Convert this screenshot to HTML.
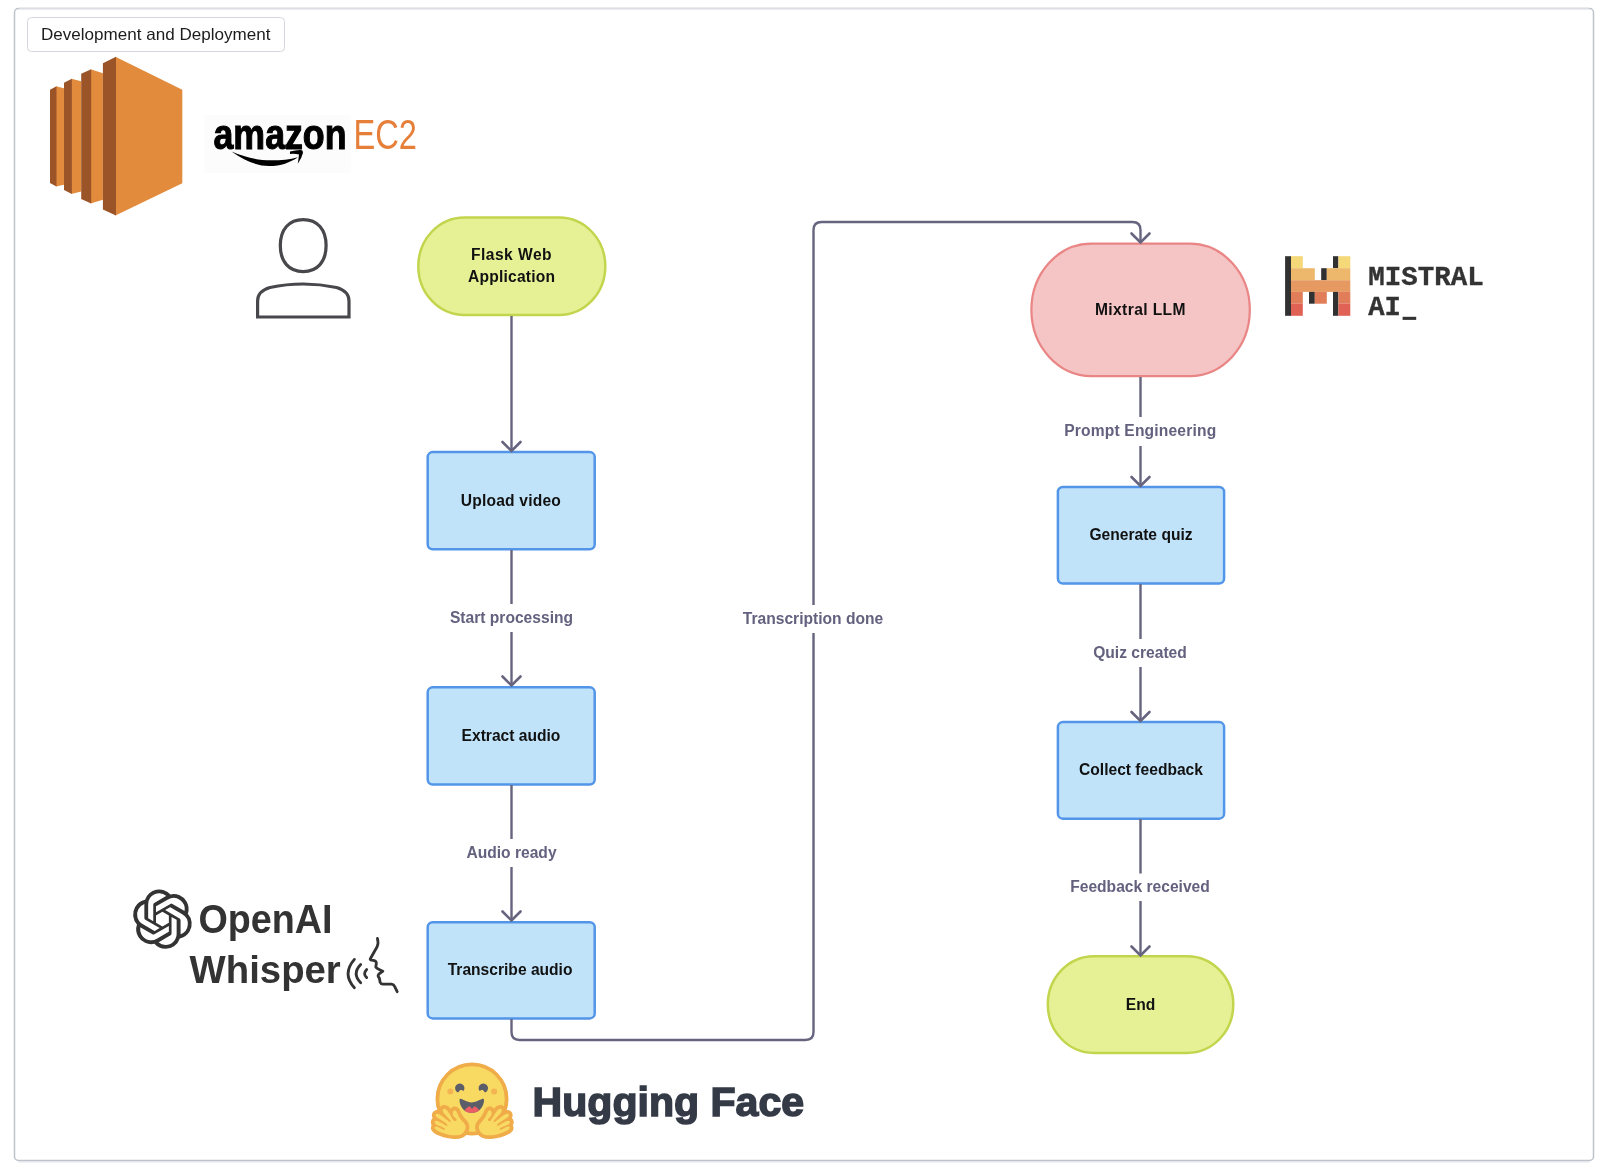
<!DOCTYPE html>
<html>
<head>
<meta charset="utf-8">
<style>
html,body{margin:0;padding:0;background:#ffffff;width:1608px;height:1168px;overflow:hidden;}
svg{position:absolute;left:0;top:0;display:block;will-change:transform;}
text{font-family:"Liberation Sans",sans-serif;}
.nt{font-weight:bold;font-size:15.6px;fill:#111111;text-anchor:middle;}
.lb{font-weight:bold;font-size:15.6px;fill:#64617f;text-anchor:middle;}
.ln{fill:none;stroke:#66647f;stroke-width:2.4;}
.ah{stroke-linecap:round;stroke-width:2.6;}
.box{fill:#c1e3fa;stroke:#5395e8;stroke-width:2.5;}
</style>
</head>
<body>
<svg width="1608" height="1168" viewBox="0 0 1608 1168">
  <!-- outer frame -->
  <line x1="18" y1="1162" x2="1590" y2="1162" stroke="#f1f2f4" stroke-width="2"/>
  <rect x="14.5" y="8.5" width="1579" height="1152" rx="4" fill="#ffffff" stroke="#bec2cb" stroke-width="1.5"/>
  <line x1="19" y1="8.5" x2="1589" y2="8.5" stroke="#dcdee3" stroke-width="1.5"/>
  <!-- label -->
  <rect x="27.5" y="17.5" width="257" height="34" rx="4" fill="#ffffff" stroke="#d3d6dc" stroke-width="1"/>
  <text x="41" y="40" font-size="16.5" fill="#1c1c1c" textLength="229.5" lengthAdjust="spacingAndGlyphs">Development and Deployment</text>

  <!-- EC2 icon -->
  <g id="ec2">
    <polygon points="55.9,86.3 64,88.2 64,184.8 55.9,186.6" fill="#e38b3c"/>
    <polygon points="50,89.7 56.5,86.3 56.5,186.6 50,183" fill="#9a5427"/>
    <polygon points="71.3,78.8 81.2,81.2 81.2,191.6 71.3,194.1" fill="#e38b3c"/>
    <polygon points="64,82.7 71.9,78.8 71.9,194.1 64,190.1" fill="#9a5427"/>
    <polygon points="90.6,69.2 102.9,73.2 102.9,199.8 90.6,203.6" fill="#e38b3c"/>
    <polygon points="81.2,73.7 91.2,69.2 91.2,203.6 81.2,199.1" fill="#9a5427"/>
    <polygon points="115.4,56.7 182.3,89.7 182.3,183.3 115.4,215.5" fill="#e38b3c"/>
    <polygon points="102.9,63.2 116,56.7 116,215.5 102.9,209.6" fill="#9a5427"/>
  </g>

  <!-- amazon EC2 -->
  <rect x="204" y="115" width="147" height="58" fill="#fcfcfc"/>
  <text x="213.5" y="148.7" font-size="42.5" font-weight="bold" fill="#000" stroke="#000" stroke-width="1.1" textLength="133" lengthAdjust="spacingAndGlyphs">amazon</text>
  <path d="M231.5,151.6 C245,161 257,166 269,166 C281,166 290,162.5 298,157.2 C290,159.8 281,160.3 271,160.3 C258,160.3 245,157.5 231.5,151.6 Z" fill="#000"/>
  <path d="M290,151.5 Q296,149.8 301,150 Q303.2,150.3 303,152.8 Q301.8,158 297.8,163.8 Q298.6,158.5 299,154.6 Q295,153.5 290,154 Z" fill="#000"/>
  <text x="353.5" y="148.7" font-size="43.4" fill="#e67f3a" textLength="63.5" lengthAdjust="spacingAndGlyphs">EC2</text>

  <!-- person -->
  <path d="M303.2,219.6 C317.40,219.6 326.09999999999997,229.48 326.09999999999997,245.6 C326.09999999999997,261.72 317.40,271.6 303.2,271.6 C289.00,271.6 280.3,261.72 280.3,245.6 C280.3,229.48 289.00,219.6 303.2,219.6 Z" fill="none" stroke="#48484c" stroke-width="3.2"/>
  <path d="M257.6,317 L257.6,301 Q257.6,291 270,287.5 Q286,284 303.3,284 Q320,284 336.5,287.5 Q349,291 349,301 L349,317 Z" fill="none" stroke="#48484c" stroke-width="3.2" stroke-linejoin="miter"/>

  <!-- ============ nodes ============ -->
  <rect x="418.3" y="217.5" width="187" height="97.4" rx="46" ry="48.7" fill="#e6f196" stroke="#c2d54c" stroke-width="2.5"/>
  <text class="nt" x="511.3" y="260" textLength="80.5">Flask Web</text>
  <text class="nt" x="511.5" y="282" textLength="87">Application</text>

  <rect class="box" x="427.7" y="452.1" width="167" height="97.2" rx="5"/>
  <text class="nt" x="510.8" y="505.5" textLength="100">Upload video</text>
  <rect class="box" x="427.7" y="687.3" width="167" height="97.2" rx="5"/>
  <text class="nt" x="511" y="740.6">Extract audio</text>
  <rect class="box" x="427.7" y="922.2" width="167" height="96.2" rx="5"/>
  <text class="nt" x="510.1" y="975.2">Transcribe audio</text>

  <rect x="1031.4" y="243.7" width="218.4" height="132.4" rx="60" ry="66" fill="#f5c4c4" stroke="#ea8585" stroke-width="2.2"/>
  <text class="nt" x="1140.2" y="315" textLength="90.5">Mixtral LLM</text>

  <rect class="box" x="1057.9" y="486.9" width="166.2" height="96.6" rx="5"/>
  <text class="nt" x="1141" y="539.5">Generate quiz</text>
  <rect class="box" x="1057.9" y="722.1" width="166.2" height="96.6" rx="5"/>
  <text class="nt" x="1141" y="774.5">Collect feedback</text>

  <rect x="1047.8" y="956.3" width="185.5" height="96.6" rx="46" ry="48.3" fill="#e6f196" stroke="#c2d54c" stroke-width="2.5"/>
  <text class="nt" x="1140.5" y="1010.4">End</text>

  <!-- ============ edges ============ -->
  <!-- flask -> upload -->
  <path class="ln" d="M511.5,316 V451"/>
  <path class="ln ah" d="M502.5,442 L511.5,451 L520.5,442"/>
  <!-- upload -> extract -->
  <path class="ln" d="M511.5,550 V604 M511.5,632 V685"/>
  <path class="ln ah" d="M502.5,676.5 L511.5,685.5 L520.5,676.5"/>
  <text class="lb" x="511.5" y="623">Start processing</text>
  <!-- extract -> transcribe -->
  <path class="ln" d="M511.5,785 V839 M511.5,867 V920"/>
  <path class="ln ah" d="M502.5,911.5 L511.5,920.5 L520.5,911.5"/>
  <text class="lb" x="511.5" y="858">Audio ready</text>
  <!-- transcribe -> mixtral -->
  <path class="ln" d="M511.5,1019 V1032 Q511.5,1040 519.5,1040 H805.5 Q813.5,1040 813.5,1032 V633 M813.5,605 V230 Q813.5,222 821.5,222 H1132.5 Q1140.5,222 1140.5,230 V242"/>
  <path class="ln ah" d="M1131.5,233.5 L1140.5,242.5 L1149.5,233.5"/>
  <text class="lb" x="813" y="624">Transcription done</text>
  <!-- mixtral -> generate -->
  <path class="ln" d="M1140.5,377 V417 M1140.5,446 V486"/>
  <path class="ln ah" d="M1131.5,477 L1140.5,486 L1149.5,477"/>
  <text class="lb" x="1140.2" y="436" textLength="152">Prompt Engineering</text>
  <!-- generate -> collect -->
  <path class="ln" d="M1140.5,584 V639 M1140.5,667 V721"/>
  <path class="ln ah" d="M1131.5,712 L1140.5,721 L1149.5,712"/>
  <text class="lb" x="1140" y="658">Quiz created</text>
  <!-- collect -> end -->
  <path class="ln" d="M1140.5,819 V873.5 M1140.5,901 V955.5"/>
  <path class="ln ah" d="M1131.5,946.5 L1140.5,955.5 L1149.5,946.5"/>
  <text class="lb" x="1140" y="892.4">Feedback received</text>

  <!-- Mistral logo -->
  <g id="mistral">
    <rect x="1285.1" y="256.2" width="5.9" height="59.6" fill="#313131"/>
    <rect x="1291" y="256.2" width="11.8" height="12" fill="#f5d878"/>
    <rect x="1333" y="256.2" width="5.4" height="12" fill="#313131"/>
    <rect x="1338.4" y="256.2" width="11.9" height="12" fill="#f5d878"/>
    <rect x="1291" y="268.2" width="23.8" height="12" fill="#edb86b"/>
    <rect x="1321.2" y="268.2" width="5.6" height="12" fill="#313131"/>
    <rect x="1326.8" y="268.2" width="23.5" height="12" fill="#edb86b"/>
    <rect x="1291" y="280.2" width="59.3" height="11.7" fill="#e69a62"/>
    <rect x="1291" y="291.9" width="11.8" height="11.8" fill="#e27d5a"/>
    <rect x="1309" y="291.9" width="5.8" height="11.8" fill="#313131"/>
    <rect x="1314.8" y="291.9" width="12" height="11.8" fill="#e27d5a"/>
    <rect x="1333" y="291.9" width="5.4" height="23.9" fill="#313131"/>
    <rect x="1338.4" y="291.9" width="11.9" height="11.8" fill="#e27d5a"/>
    <rect x="1291" y="303.7" width="11.8" height="12.1" fill="#df6255"/>
    <rect x="1338.4" y="303.7" width="11.9" height="12.1" fill="#df6255"/>
  </g>
  <text x="1368.3" y="285.1" style="font-family:'Liberation Mono',monospace" font-weight="bold" font-size="27.2" fill="#333333" stroke="#333333" stroke-width="0.35" textLength="115.5" lengthAdjust="spacingAndGlyphs">MISTRAL</text>
  <text x="1368.3" y="314.9" style="font-family:'Liberation Mono',monospace" font-weight="bold" font-size="27.2" fill="#333333" stroke="#333333" stroke-width="0.35">AI</text>
  <rect x="1402.6" y="316.8" width="13.6" height="3.1" fill="#333333"/>

  <!-- OpenAI -->
  <g transform="translate(132.7,889.4) scale(2.475)">
    <path fill="#333333" d="M22.2819 9.8211a5.9847 5.9847 0 0 0-.5157-4.9108 6.0462 6.0462 0 0 0-6.5098-2.9A6.0651 6.0651 0 0 0 4.9807 4.1818a5.9847 5.9847 0 0 0-3.9977 2.9 6.0462 6.0462 0 0 0 .7427 7.0966 5.98 5.98 0 0 0 .511 4.9107 6.051 6.051 0 0 0 6.5146 2.9001A5.9847 5.9847 0 0 0 13.2599 24a6.0557 6.0557 0 0 0 5.7718-4.2058 5.9894 5.9894 0 0 0 3.9977-2.9001 6.0557 6.0557 0 0 0-.7475-7.0729zm-9.022 12.6081a4.4755 4.4755 0 0 1-2.8764-1.0408l.1419-.0804 4.7783-2.7582a.7948.7948 0 0 0 .3927-.6813v-6.7369l2.02 1.1686a.071.071 0 0 1 .038.052v5.5826a4.504 4.504 0 0 1-4.4945 4.4944zm-9.6607-4.1254a4.4708 4.4708 0 0 1-.5346-3.0137l.142.0852 4.783 2.7582a.7712.7712 0 0 0 .7806 0l5.8428-3.3685v2.3324a.0804.0804 0 0 1-.0332.0615L9.74 19.9502a4.4992 4.4992 0 0 1-6.1408-1.6464zM2.3408 7.8956a4.485 4.485 0 0 1 2.3655-1.9728V11.6a.7664.7664 0 0 0 .3879.6765l5.8144 3.3543-2.0201 1.1685a.0757.0757 0 0 1-.071 0l-4.8303-2.7865A4.504 4.504 0 0 1 2.3408 7.872zm16.5963 3.8558L13.1038 8.364 15.1192 7.2a.0757.0757 0 0 1 .071 0l4.8303 2.7913a4.4944 4.4944 0 0 1-.6765 8.1042v-5.6772a.79.79 0 0 0-.407-.667zm2.0107-3.0231l-.142-.0852-4.7735-2.7818a.7759.7759 0 0 0-.7854 0L9.409 9.2297V6.8974a.0662.0662 0 0 1 .0284-.0615l4.8303-2.7866a4.4992 4.4992 0 0 1 6.6802 4.66zM8.3065 12.863l-2.02-1.1638a.0804.0804 0 0 1-.038-.0567V6.0742a4.4992 4.4992 0 0 1 7.3757-3.4537l-.142.0805L8.704 5.459a.7948.7948 0 0 0-.3927.6813zm1.0976-2.3654l2.602-1.4998 2.6069 1.4998v2.9994l-2.5974 1.4997-2.6067-1.4997Z"/>
  </g>
  <text x="198.4" y="933.2" font-size="40.3" font-weight="bold" fill="#333333" textLength="134.2" lengthAdjust="spacingAndGlyphs">OpenAI</text>
  <text x="189.6" y="983.1" font-size="38.9" font-weight="bold" fill="#333333" textLength="151.2" lengthAdjust="spacingAndGlyphs">Whisper</text>
  <!-- whisper icon -->
  <g fill="none" stroke="#333333" stroke-width="2.8" stroke-linecap="round" stroke-linejoin="round">
    <path d="M377.4,938.4 Q378.8,943 377.1,946.8 L370.2,959 Q369.8,960.3 373.2,960.4 Q376.8,961 376.3,963.8 L375.8,967 Q376.2,968.3 382.9,971.2 L378.8,974.2 Q377.2,975.8 379.4,978.2 L380.1,982.3 Q380.9,984.2 382.8,984.2 L391.6,984.2 Q393.8,984.5 394.6,986.3 L397.2,991.7"/>
    <path d="M366.7,969.5 Q362.5,973.8 366.7,977.6"/>
    <path d="M360.7,964.5 Q351.7,973.8 360.7,982.7"/>
    <path d="M354.4,959.4 Q341.8,973.8 354.4,987.8"/>
  </g>

  <!-- Hugging face -->
  <g id="hf" transform="translate(472,1099) scale(0.942) translate(-47.2,-41.75)">
    <defs><clipPath id="mclip"><path d="M46.9619 56.289C56.7903 56.289 59.9619 47.5261 59.9619 43.0262C59.9619 40.6875 58.3898 41.4236 55.8718 42.6702C53.5449 43.8222 50.4102 45.4101 46.9619 45.4101C39.7822 45.4101 33.9619 38.5263 33.9619 43.0262C33.9619 47.5261 37.1334 56.289 46.9619 56.289Z"/></clipPath></defs>
    <circle cx="47.2119" cy="41.75" r="36.75" fill="#f8da63" stroke="#efac48" stroke-width="4"/>
    <path fill="#5b5d68" d="M58.5024 32.2915C59.7768 32.7415 60.2839 35.3615 61.5713 34.6769C64.0095 33.3805 64.9351 30.353 63.6387 27.9148C62.3423 25.4767 59.3148 24.5511 56.8766 25.8475C54.4384 27.1439 53.5128 30.1714 54.8092 32.6096C55.4211 33.7604 57.3632 31.8892 58.5024 32.2915Z"/>
    <path fill="#5b5d68" d="M34.9454 32.2915C33.671 32.7415 33.164 35.3615 31.8766 34.6769C29.4384 33.3805 28.5128 30.353 29.8092 27.9148C31.1056 25.4767 34.1331 24.5511 36.5713 25.8475C39.0095 27.1439 39.9351 30.1714 38.6387 32.6096C38.0268 33.7604 36.0846 31.8892 34.9454 32.2915Z"/>
    <path fill="#5b5d68" d="M46.9619 56.289C56.7903 56.289 59.9619 47.5261 59.9619 43.0262C59.9619 40.6875 58.3898 41.4236 55.8718 42.6702C53.5449 43.8222 50.4102 45.4101 46.9619 45.4101C39.7822 45.4101 33.9619 38.5263 33.9619 43.0262C33.9619 47.5261 37.1334 56.289 46.9619 56.289Z"/>
    <path clip-path="url(#mclip)" fill="#eb5e65" d="M47.2119 66.5C52.0018 66.5 55.8848 62.617 55.8848 57.8271C55.8848 54.0962 53.5291 50.9156 50.224 49.6915C50.1023 49.6464 49.9794 49.604 49.8553 49.5643C49.0219 49.2979 48.1337 52.1623 47.2119 52.1623C46.3506 52.1623 45.5186 49.2797 44.7332 49.5135C41.151 50.5799 38.5389 53.8984 38.5389 57.8271C38.5389 62.617 42.4219 66.5 47.2119 66.5Z"/>
    <circle cx="70.7119" cy="33.75" r="3.25" fill="#f2b552"/>
    <circle cx="24.2119" cy="33.75" r="3.25" fill="#f2b552"/>
    <g id="lhand">
      <path fill="#efac48" d="M17.5238 48C15.9048 48 14.4578 48.665 13.4488 49.871C12.8248 50.618 12.1728 51.822 12.1198 53.625C11.4408 53.43 10.7878 53.321 10.1778 53.321C8.6278 53.321 7.2278 53.915 6.2378 54.994C4.9658 56.379 4.4008 58.081 4.6468 59.784C4.7638 60.595 5.0348 61.322 5.4398 61.995C4.5858 62.686 3.9568 63.648 3.6528 64.805C3.4148 65.712 3.1708 67.601 4.4448 69.547C4.3638 69.674 4.2878 69.806 4.2168 69.941C3.4508 71.395 3.4018 73.038 4.0778 74.568C5.1028 76.887 7.6498 78.714 12.5958 80.675C15.6728 81.895 18.4878 82.675 18.5128 82.682C22.5808 83.737 26.2598 84.273 29.4448 84.273C35.2988 84.273 39.4898 82.48 41.9018 78.944C45.7838 73.25 45.2288 68.042 40.2058 63.022C37.4258 60.244 35.5778 56.148 35.1928 55.249C34.4168 52.587 32.3648 49.628 28.9538 49.628H28.9528C28.6658 49.628 28.3758 49.651 28.0898 49.696C26.5958 49.931 25.2898 50.791 24.3568 52.085C23.3498 50.833 22.3718 49.837 21.4868 49.275C20.1528 48.429 18.8198 48 17.5238 48Z"/>
      <path fill="#f8da63" d="M17.5238 52C18.0338 52 18.6568 52.217 19.3438 52.653C21.4768 54.006 25.5928 61.081 27.0998 63.833C27.6048 64.755 28.4678 65.145 29.2448 65.145C30.7868 65.145 31.9908 63.612 29.3858 61.664C25.4688 58.733 26.8428 53.942 28.7128 53.647C28.7948 53.634 28.8758 53.628 28.9538 53.628C30.6538 53.628 31.4038 56.558 31.4038 56.558C31.4038 56.558 33.6018 62.078 37.3778 65.851C41.1538 69.625 41.3488 72.654 38.5968 76.69C36.7198 79.442 33.1268 80.273 29.4448 80.273C25.6258 80.273 21.7108 79.379 19.5168 78.81C19.4088 78.782 6.0658 75.013 7.7558 71.805C8.0398 71.266 8.5078 71.05 9.0968 71.05C11.4768 71.05 15.8058 74.592 17.6668 74.592C18.0828 74.592 18.3758 74.415 18.4958 73.983C19.2888 71.138 6.4388 69.942 7.5218 65.821C7.7128 65.092 8.2308 64.796 8.9588 64.797C12.1038 64.797 19.1598 70.328 20.6388 70.328C20.7518 70.328 20.8328 70.295 20.8768 70.225C21.6178 69.029 21.2118 68.194 15.9888 65.033C10.7658 61.871 7.0998 59.969 9.1848 57.699C9.4248 57.437 9.7648 57.321 10.1778 57.321C13.3488 57.322 20.8408 64.14 20.8408 64.14C20.8408 64.14 22.8628 66.243 24.0858 66.243C24.3668 66.243 24.6058 66.132 24.7678 65.858C25.6348 64.396 16.7148 57.636 16.2118 54.847C15.8708 52.957 16.4508 52 17.5238 52Z"/>
    </g>
    <g transform="translate(94.92,0) scale(-1,1)">
      <path fill="#efac48" d="M17.5238 48C15.9048 48 14.4578 48.665 13.4488 49.871C12.8248 50.618 12.1728 51.822 12.1198 53.625C11.4408 53.43 10.7878 53.321 10.1778 53.321C8.6278 53.321 7.2278 53.915 6.2378 54.994C4.9658 56.379 4.4008 58.081 4.6468 59.784C4.7638 60.595 5.0348 61.322 5.4398 61.995C4.5858 62.686 3.9568 63.648 3.6528 64.805C3.4148 65.712 3.1708 67.601 4.4448 69.547C4.3638 69.674 4.2878 69.806 4.2168 69.941C3.4508 71.395 3.4018 73.038 4.0778 74.568C5.1028 76.887 7.6498 78.714 12.5958 80.675C15.6728 81.895 18.4878 82.675 18.5128 82.682C22.5808 83.737 26.2598 84.273 29.4448 84.273C35.2988 84.273 39.4898 82.48 41.9018 78.944C45.7838 73.25 45.2288 68.042 40.2058 63.022C37.4258 60.244 35.5778 56.148 35.1928 55.249C34.4168 52.587 32.3648 49.628 28.9538 49.628H28.9528C28.6658 49.628 28.3758 49.651 28.0898 49.696C26.5958 49.931 25.2898 50.791 24.3568 52.085C23.3498 50.833 22.3718 49.837 21.4868 49.275C20.1528 48.429 18.8198 48 17.5238 48Z"/>
      <path fill="#f8da63" d="M17.5238 52C18.0338 52 18.6568 52.217 19.3438 52.653C21.4768 54.006 25.5928 61.081 27.0998 63.833C27.6048 64.755 28.4678 65.145 29.2448 65.145C30.7868 65.145 31.9908 63.612 29.3858 61.664C25.4688 58.733 26.8428 53.942 28.7128 53.647C28.7948 53.634 28.8758 53.628 28.9538 53.628C30.6538 53.628 31.4038 56.558 31.4038 56.558C31.4038 56.558 33.6018 62.078 37.3778 65.851C41.1538 69.625 41.3488 72.654 38.5968 76.69C36.7198 79.442 33.1268 80.273 29.4448 80.273C25.6258 80.273 21.7108 79.379 19.5168 78.81C19.4088 78.782 6.0658 75.013 7.7558 71.805C8.0398 71.266 8.5078 71.05 9.0968 71.05C11.4768 71.05 15.8058 74.592 17.6668 74.592C18.0828 74.592 18.3758 74.415 18.4958 73.983C19.2888 71.138 6.4388 69.942 7.5218 65.821C7.7128 65.092 8.2308 64.796 8.9588 64.797C12.1038 64.797 19.1598 70.328 20.6388 70.328C20.7518 70.328 20.8328 70.295 20.8768 70.225C21.6178 69.029 21.2118 68.194 15.9888 65.033C10.7658 61.871 7.0998 59.969 9.1848 57.699C9.4248 57.437 9.7648 57.321 10.1778 57.321C13.3488 57.322 20.8408 64.14 20.8408 64.14C20.8408 64.14 22.8628 66.243 24.0858 66.243C24.3668 66.243 24.6058 66.132 24.7678 65.858C25.6348 64.396 16.7148 57.636 16.2118 54.847C15.8708 52.957 16.4508 52 17.5238 52Z"/>
    </g>
  </g>
  <text x="532.6" y="1116.1" font-size="41.2" font-weight="bold" fill="#353a47" stroke="#353a47" stroke-width="1.5" textLength="271.5" lengthAdjust="spacingAndGlyphs">Hugging Face</text>
</svg>
</body>
</html>
